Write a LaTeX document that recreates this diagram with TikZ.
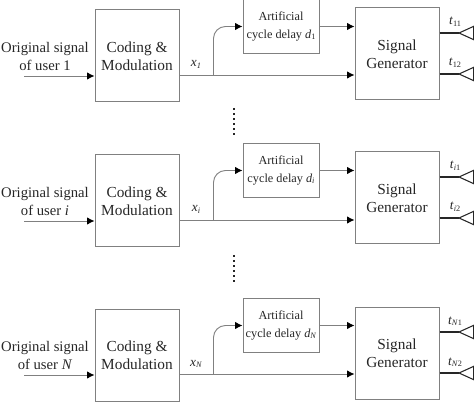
\documentclass[tikz,border=0pt]{standalone}
\usepackage{fontspec}
\setmainfont{Liberation Serif}
\usetikzlibrary{arrows.meta}
\newcommand{\tinysub}[1]{\raisebox{-0.25ex}{\fontsize{6.2}{7}\selectfont #1}}
\tikzset{
  x=0.75pt,y=-0.75pt,
  block/.style={draw=black!50,line width=0.75pt,minimum width=63pt,minimum height=69pt,inner sep=0pt,align=center,font=\fontsize{11.5}{13.3}\selectfont,text=black!85},
  delaybox/.style={draw=black!50,line width=0.75pt,minimum width=57pt,minimum height=39.8pt,inner sep=0pt,align=center,font=\fontsize{9.2}{13}\selectfont,text=black!85},
  wire/.style={draw=black!50,line width=0.7pt},
  arrowed/.style={wire,-{Latex[length=5.5pt,width=5.5pt,black]}},
  lab/.style={inner sep=0pt,align=center,font=\fontsize{11}{13.5}\selectfont,text=black!85},
  small/.style={inner sep=0pt,font=\fontsize{10}{12}\selectfont,text=black!85},
  antfeed/.style={draw=black!85,line width=1pt},
  antenna/.style={draw=black!85,line width=0.8pt,line join=miter},
  dots/.style={draw=black!85,line width=1.4pt,dash pattern=on 1.2pt off 2.6pt},
}
\newcommand{\rowdraw}[9]{%
  % #1 prefix, #2 coding centre y, #3 delay centre y, #4 signal centre y, #5 input text, #6 x label, #7 d label, #8 t1, #9 t2
  \node[block] (#1c) at (137,#2) {Coding \&\\Modulation};
  \node[delaybox] (#1d) at (281,#3) {Artificial\\cycle delay #7};
  \node[block] (#1s) at (397,#4) {Signal\\Generator};
  \node[lab] (#1t) at (45,#2) {#5};
  \coordinate (#1in) at (24,#2+20);
  \coordinate (#1a) at (213.5,#2+19);
  \coordinate (#1b) at (#1s.west|-#1a);
  \coordinate (#1u) at (#1d.west);
  \coordinate (#1v) at (#1s.west|-#1d.east);
  \draw[arrowed] (#1in) -- (#1c.west|-#1in);
  \draw[wire] (#1c.east|-#1a) -- (#1a);
  \draw[arrowed] (#1a) -- (#1b);
  \draw[arrowed,rounded corners=9pt] (#1a) |- (#1u);
  \draw[arrowed] (#1d.east) -- (#1v);
  \node[small,anchor=base] (#1x) at (196,#2+11) {#6};
  \node[small,anchor=base] (#1p) at (455,#4-29) {#8};
  \node[small,anchor=base] (#1q) at (455,#4+12) {#9};
  \coordinate (#1g) at (459,#4-21);
  \coordinate (#1h) at (459,#4+20);
  \foreach \k in {g,h}{
    \coordinate (tip) at (#1\k);
    \draw[antfeed] (#1s.east|-tip) -- (tip);
    \draw[antenna] (tip) -- ([shift={(11pt,-5pt)}]tip) -- ([shift={(11pt,5pt)}]tip) -- cycle;
  }
}
\begin{document}
\begin{tikzpicture}
\useasboundingbox (0,0) rectangle (474,402);
\rowdraw{A}{56}{26.5}{54}{Original signal\\of user 1}{\textit{x}\tinysub{\textit{1}}}{\textit{d}\tinysub{1}}{\textit{t}\tinysub{11}}{\textit{t}\tinysub{12}}
\rowdraw{B}{201}{170.5}{198}{Original signal\\of user \textit{i}}{\textit{x}\tinysub{\textit{i}}}{\textit{d}\tinysub{\textit{i}}}{\textit{t}\tinysub{\textit{i}1}}{\textit{t}\tinysub{\textit{i}2}}
\rowdraw{C}{355}{325.5}{353}{Original signal\\of user \textit{N}}{\textit{x}\tinysub{\textit{N}}}{\textit{d}\tinysub{\textit{N}}}{\textit{t}\tinysub{\textit{N}1}}{\textit{t}\tinysub{\textit{N}2}}
\coordinate (d1) at (234,108);
\coordinate (d2) at (234,135);
\coordinate (d3) at (234,255);
\coordinate (d4) at (234,282);
\draw[dots] (d1) -- (d2);
\draw[dots] (d3) -- (d4);
\end{tikzpicture}
\end{document}
